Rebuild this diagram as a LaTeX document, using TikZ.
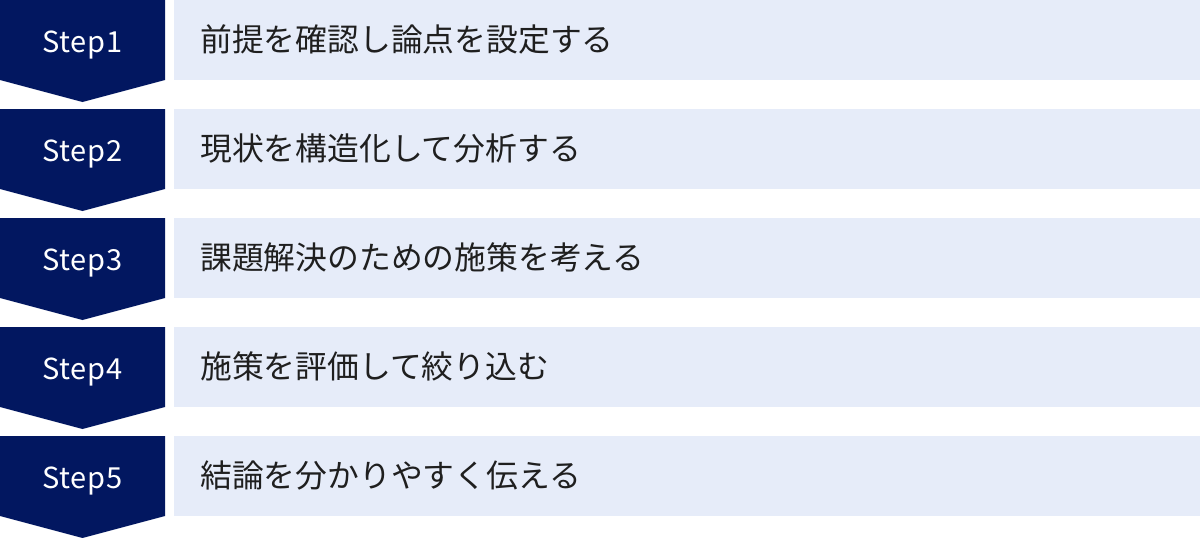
\documentclass[tikz,border=0pt]{standalone}
\usepackage{fontspec}
\setmainfont{Noto Sans CJK JP}
\definecolor{navy}{HTML}{021760}
\definecolor{pale}{HTML}{E6ECF9}
\tikzset{
  chevron/.style={fill=navy, draw=none},
  taskbox/.style={fill=pale, draw=none},
  steplabel/.style={text=white, font=\fontsize{29}{34}\selectfont\addfontfeature{LetterSpace=3}, inner sep=0pt, anchor=base},
  tasklabel/.style={text=black!88, font=\fontsize{31.8}{38}\selectfont, inner sep=0pt, anchor=base west}
}
\begin{document}
\begin{tikzpicture}[x=1pt, y=-1pt]
\useasboundingbox (0,0) rectangle (1200,538);
\foreach \i/\txt in {1/前提を確認し論点を設定する, 2/現状を構造化して分析する, 3/課題解決のための施策を考える, 4/施策を評価して絞り込む, 5/結論を分かりやすく伝える}{
  \pgfmathsetmacro{\top}{(\i-1)*109}
  \fill[chevron](0,\top)--(165,\top)--(165,\top+80)--(82.5,\top+102)--(0,\top+80)--cycle;
  \fill[taskbox](174,\top) rectangle (1200,\top+80);
  \node[steplabel] (step\i) at (82.5,\top+52.5) {Step\i};
  \node[tasklabel] (task\i) at (200,\top+51.5) {\txt};
}
\end{tikzpicture}
\end{document}
